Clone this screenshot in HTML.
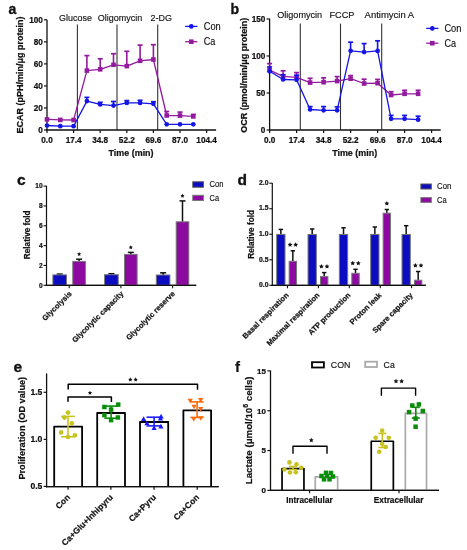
<!DOCTYPE html>
<html><head><meta charset="utf-8"><style>
html,body{margin:0;padding:0;background:#fff;overflow:hidden;}
svg{display:block;font-family:"Liberation Sans", sans-serif;will-change:transform;}
</style></head><body>
<svg width="467" height="550" viewBox="0 0 467 550">
<rect width="467" height="550" fill="#fff"/>
<text x="8.60" y="13.80" font-size="14" font-weight="bold" text-anchor="start" fill="#111" stroke="#111" stroke-width="0.35">a</text>
<line x1="77.40" y1="24.50" x2="77.40" y2="130.00" stroke="#333" stroke-width="1.1" />
<line x1="117.00" y1="24.50" x2="117.00" y2="130.00" stroke="#333" stroke-width="1.1" />
<line x1="157.70" y1="24.50" x2="157.70" y2="130.00" stroke="#333" stroke-width="1.1" />
<text x="59.10" y="20.70" font-size="9.8" font-weight="normal" text-anchor="start" fill="#111" stroke="#111" stroke-width="0.15" textLength="32.9" lengthAdjust="spacingAndGlyphs">Glucose</text>
<text x="97.70" y="20.70" font-size="9.8" font-weight="normal" text-anchor="start" fill="#111" stroke="#111" stroke-width="0.15" textLength="44.6" lengthAdjust="spacingAndGlyphs">Oligomycin</text>
<text x="150.60" y="20.70" font-size="9.8" font-weight="normal" text-anchor="start" fill="#111" stroke="#111" stroke-width="0.15" textLength="21.5" lengthAdjust="spacingAndGlyphs">2-DG</text>
<line x1="47.00" y1="19.80" x2="47.00" y2="130.60" stroke="#111" stroke-width="1.3" />
<line x1="46.40" y1="130.00" x2="216.10" y2="130.00" stroke="#111" stroke-width="1.3" />
<line x1="44.00" y1="130.00" x2="47.00" y2="130.00" stroke="#111" stroke-width="1.2" />
<text x="42.80" y="132.90" font-size="8.2" font-weight="bold" text-anchor="end" fill="#111"  stroke="#111" stroke-width="0.22">0</text>
<line x1="44.00" y1="107.96" x2="47.00" y2="107.96" stroke="#111" stroke-width="1.2" />
<text x="42.80" y="110.86" font-size="8.2" font-weight="bold" text-anchor="end" fill="#111"  stroke="#111" stroke-width="0.22">20</text>
<line x1="44.00" y1="85.92" x2="47.00" y2="85.92" stroke="#111" stroke-width="1.2" />
<text x="42.80" y="88.82" font-size="8.2" font-weight="bold" text-anchor="end" fill="#111"  stroke="#111" stroke-width="0.22">40</text>
<line x1="44.00" y1="63.88" x2="47.00" y2="63.88" stroke="#111" stroke-width="1.2" />
<text x="42.80" y="66.78" font-size="8.2" font-weight="bold" text-anchor="end" fill="#111"  stroke="#111" stroke-width="0.22">60</text>
<line x1="44.00" y1="41.84" x2="47.00" y2="41.84" stroke="#111" stroke-width="1.2" />
<text x="42.80" y="44.74" font-size="8.2" font-weight="bold" text-anchor="end" fill="#111"  stroke="#111" stroke-width="0.22">80</text>
<line x1="44.00" y1="19.80" x2="47.00" y2="19.80" stroke="#111" stroke-width="1.2" />
<text x="42.80" y="22.70" font-size="8.2" font-weight="bold" text-anchor="end" fill="#111"  stroke="#111" stroke-width="0.22">100</text>
<line x1="47.00" y1="130.00" x2="47.00" y2="133.00" stroke="#111" stroke-width="1.2" />
<text x="47.00" y="142.60" font-size="8.2" font-weight="bold" text-anchor="middle" fill="#111"  stroke="#111" stroke-width="0.22">0.0</text>
<line x1="73.60" y1="130.00" x2="73.60" y2="133.00" stroke="#111" stroke-width="1.2" />
<text x="73.60" y="142.60" font-size="8.2" font-weight="bold" text-anchor="middle" fill="#111"  stroke="#111" stroke-width="0.22">17.4</text>
<line x1="100.20" y1="130.00" x2="100.20" y2="133.00" stroke="#111" stroke-width="1.2" />
<text x="100.20" y="142.60" font-size="8.2" font-weight="bold" text-anchor="middle" fill="#111"  stroke="#111" stroke-width="0.22">34.8</text>
<line x1="126.80" y1="130.00" x2="126.80" y2="133.00" stroke="#111" stroke-width="1.2" />
<text x="126.80" y="142.60" font-size="8.2" font-weight="bold" text-anchor="middle" fill="#111"  stroke="#111" stroke-width="0.22">52.2</text>
<line x1="153.40" y1="130.00" x2="153.40" y2="133.00" stroke="#111" stroke-width="1.2" />
<text x="153.40" y="142.60" font-size="8.2" font-weight="bold" text-anchor="middle" fill="#111"  stroke="#111" stroke-width="0.22">69.6</text>
<line x1="180.00" y1="130.00" x2="180.00" y2="133.00" stroke="#111" stroke-width="1.2" />
<text x="180.00" y="142.60" font-size="8.2" font-weight="bold" text-anchor="middle" fill="#111"  stroke="#111" stroke-width="0.22">87.0</text>
<line x1="206.60" y1="130.00" x2="206.60" y2="133.00" stroke="#111" stroke-width="1.2" />
<text x="206.60" y="142.60" font-size="8.2" font-weight="bold" text-anchor="middle" fill="#111"  stroke="#111" stroke-width="0.22">104.4</text>
<text x="131.05" y="155.60" font-size="9" font-weight="bold" text-anchor="middle" fill="#111"  textLength="45.0" lengthAdjust="spacingAndGlyphs" stroke="#111" stroke-width="0.22">Time (min)</text>
<text x="22.80" y="75.00" font-size="9" font-weight="bold" text-anchor="middle" fill="#111" transform="rotate(-90 22.80 75.00)"  stroke="#111" stroke-width="0.22">ECAR (pPH/min/μg protein)</text>
<polyline points="47.00,119.40 60.30,119.90 73.60,120.00 86.90,70.60 100.20,69.30 113.50,64.80 126.80,66.10 140.10,60.80 153.40,59.50 166.70,115.50 180.00,115.60 193.30,116.40" fill="none" stroke="#931a9f" stroke-width="1.3" stroke-linejoin="round" />
<rect x="44.70" y="117.10" width="4.60" height="4.60" fill="#931a9f" stroke="none" stroke-width="0" />
<rect x="58.00" y="117.60" width="4.60" height="4.60" fill="#931a9f" stroke="none" stroke-width="0" />
<rect x="71.30" y="117.70" width="4.60" height="4.60" fill="#931a9f" stroke="none" stroke-width="0" />
<line x1="86.90" y1="70.60" x2="86.90" y2="55.60" stroke="#931a9f" stroke-width="1.6" />
<line x1="84.40" y1="55.60" x2="89.40" y2="55.60" stroke="#931a9f" stroke-width="1.7" />
<rect x="84.60" y="68.30" width="4.60" height="4.60" fill="#931a9f" stroke="none" stroke-width="0" />
<line x1="100.20" y1="69.30" x2="100.20" y2="58.80" stroke="#931a9f" stroke-width="1.6" />
<line x1="97.70" y1="58.80" x2="102.70" y2="58.80" stroke="#931a9f" stroke-width="1.7" />
<rect x="97.90" y="67.00" width="4.60" height="4.60" fill="#931a9f" stroke="none" stroke-width="0" />
<line x1="113.50" y1="64.80" x2="113.50" y2="53.70" stroke="#931a9f" stroke-width="1.6" />
<line x1="111.00" y1="53.70" x2="116.00" y2="53.70" stroke="#931a9f" stroke-width="1.7" />
<rect x="111.20" y="62.50" width="4.60" height="4.60" fill="#931a9f" stroke="none" stroke-width="0" />
<line x1="126.80" y1="66.10" x2="126.80" y2="51.30" stroke="#931a9f" stroke-width="1.6" />
<line x1="124.30" y1="51.30" x2="129.30" y2="51.30" stroke="#931a9f" stroke-width="1.7" />
<rect x="124.50" y="63.80" width="4.60" height="4.60" fill="#931a9f" stroke="none" stroke-width="0" />
<line x1="140.10" y1="60.80" x2="140.10" y2="45.10" stroke="#931a9f" stroke-width="1.6" />
<line x1="137.60" y1="45.10" x2="142.60" y2="45.10" stroke="#931a9f" stroke-width="1.7" />
<rect x="137.80" y="58.50" width="4.60" height="4.60" fill="#931a9f" stroke="none" stroke-width="0" />
<line x1="153.40" y1="59.50" x2="153.40" y2="44.70" stroke="#931a9f" stroke-width="1.6" />
<line x1="150.90" y1="44.70" x2="155.90" y2="44.70" stroke="#931a9f" stroke-width="1.7" />
<rect x="151.10" y="57.20" width="4.60" height="4.60" fill="#931a9f" stroke="none" stroke-width="0" />
<line x1="166.70" y1="115.50" x2="166.70" y2="111.50" stroke="#931a9f" stroke-width="1.6" />
<line x1="164.20" y1="111.50" x2="169.20" y2="111.50" stroke="#931a9f" stroke-width="1.7" />
<rect x="164.40" y="113.20" width="4.60" height="4.60" fill="#931a9f" stroke="none" stroke-width="0" />
<line x1="180.00" y1="115.60" x2="180.00" y2="112.10" stroke="#931a9f" stroke-width="1.6" />
<line x1="177.50" y1="112.10" x2="182.50" y2="112.10" stroke="#931a9f" stroke-width="1.7" />
<rect x="177.70" y="113.30" width="4.60" height="4.60" fill="#931a9f" stroke="none" stroke-width="0" />
<line x1="193.30" y1="116.40" x2="193.30" y2="114.40" stroke="#931a9f" stroke-width="1.6" />
<line x1="190.80" y1="114.40" x2="195.80" y2="114.40" stroke="#931a9f" stroke-width="1.7" />
<rect x="191.00" y="114.10" width="4.60" height="4.60" fill="#931a9f" stroke="none" stroke-width="0" />
<polyline points="47.00,125.50 60.30,126.20 73.60,126.20 86.90,101.10 100.20,104.40 113.50,105.60 126.80,102.90 140.10,102.90 153.40,103.80 166.70,124.30 180.00,124.30 193.30,124.30" fill="none" stroke="#1414e6" stroke-width="1.3" stroke-linejoin="round" />
<circle cx="47.00" cy="125.50" r="2.35" fill="#1414e6"/>
<circle cx="60.30" cy="126.20" r="2.35" fill="#1414e6"/>
<circle cx="73.60" cy="126.20" r="2.35" fill="#1414e6"/>
<line x1="86.90" y1="101.10" x2="86.90" y2="97.40" stroke="#1414e6" stroke-width="1.6" />
<line x1="84.40" y1="97.40" x2="89.40" y2="97.40" stroke="#1414e6" stroke-width="1.7" />
<circle cx="86.90" cy="101.10" r="2.35" fill="#1414e6"/>
<line x1="100.20" y1="104.40" x2="100.20" y2="102.30" stroke="#1414e6" stroke-width="1.6" />
<line x1="97.70" y1="102.30" x2="102.70" y2="102.30" stroke="#1414e6" stroke-width="1.7" />
<circle cx="100.20" cy="104.40" r="2.35" fill="#1414e6"/>
<line x1="113.50" y1="105.60" x2="113.50" y2="101.50" stroke="#1414e6" stroke-width="1.6" />
<line x1="111.00" y1="101.50" x2="116.00" y2="101.50" stroke="#1414e6" stroke-width="1.7" />
<circle cx="113.50" cy="105.60" r="2.35" fill="#1414e6"/>
<line x1="126.80" y1="102.90" x2="126.80" y2="100.60" stroke="#1414e6" stroke-width="1.6" />
<line x1="124.30" y1="100.60" x2="129.30" y2="100.60" stroke="#1414e6" stroke-width="1.7" />
<circle cx="126.80" cy="102.90" r="2.35" fill="#1414e6"/>
<line x1="140.10" y1="102.90" x2="140.10" y2="100.30" stroke="#1414e6" stroke-width="1.6" />
<line x1="137.60" y1="100.30" x2="142.60" y2="100.30" stroke="#1414e6" stroke-width="1.7" />
<circle cx="140.10" cy="102.90" r="2.35" fill="#1414e6"/>
<line x1="153.40" y1="103.80" x2="153.40" y2="101.70" stroke="#1414e6" stroke-width="1.6" />
<line x1="150.90" y1="101.70" x2="155.90" y2="101.70" stroke="#1414e6" stroke-width="1.7" />
<circle cx="153.40" cy="103.80" r="2.35" fill="#1414e6"/>
<circle cx="166.70" cy="124.30" r="2.35" fill="#1414e6"/>
<circle cx="180.00" cy="124.30" r="2.35" fill="#1414e6"/>
<circle cx="193.30" cy="124.30" r="2.35" fill="#1414e6"/>
<line x1="185.20" y1="26.40" x2="197.40" y2="26.40" stroke="#1414e6" stroke-width="1.3" />
<circle cx="191.30" cy="26.40" r="2.35" fill="#1414e6"/>
<line x1="185.20" y1="41.70" x2="197.40" y2="41.70" stroke="#931a9f" stroke-width="1.3" />
<rect x="189.00" y="39.40" width="4.60" height="4.60" fill="#931a9f" stroke="none" stroke-width="0" />
<text x="203.70" y="29.70" font-size="10.2" font-weight="normal" text-anchor="start" fill="#111" stroke="#111" stroke-width="0.15" textLength="17.0" lengthAdjust="spacingAndGlyphs">Con</text>
<text x="203.70" y="45.00" font-size="10.2" font-weight="normal" text-anchor="start" fill="#111" stroke="#111" stroke-width="0.15" textLength="11.6" lengthAdjust="spacingAndGlyphs">Ca</text>
<text x="230.50" y="14.20" font-size="14" font-weight="bold" text-anchor="start" fill="#111" stroke="#111" stroke-width="0.35">b</text>
<line x1="300.30" y1="23.60" x2="300.30" y2="130.00" stroke="#333" stroke-width="1.1" />
<line x1="340.50" y1="23.60" x2="340.50" y2="130.00" stroke="#333" stroke-width="1.1" />
<line x1="381.70" y1="23.60" x2="381.70" y2="130.00" stroke="#333" stroke-width="1.1" />
<text x="277.20" y="18.40" font-size="9.8" font-weight="normal" text-anchor="start" fill="#111" stroke="#111" stroke-width="0.15" textLength="45.0" lengthAdjust="spacingAndGlyphs">Oligomycin</text>
<text x="329.40" y="18.40" font-size="9.8" font-weight="normal" text-anchor="start" fill="#111" stroke="#111" stroke-width="0.15" textLength="25.0" lengthAdjust="spacingAndGlyphs">FCCP</text>
<text x="364.60" y="18.40" font-size="9.8" font-weight="normal" text-anchor="start" fill="#111" stroke="#111" stroke-width="0.15" textLength="49.6" lengthAdjust="spacingAndGlyphs">Antimycin A</text>
<line x1="269.60" y1="18.60" x2="269.60" y2="130.60" stroke="#111" stroke-width="1.3" />
<line x1="269.00" y1="130.00" x2="440.70" y2="130.00" stroke="#111" stroke-width="1.3" />
<line x1="266.60" y1="130.00" x2="269.60" y2="130.00" stroke="#111" stroke-width="1.2" />
<text x="265.40" y="132.90" font-size="8.2" font-weight="bold" text-anchor="end" fill="#111"  stroke="#111" stroke-width="0.22">0</text>
<line x1="266.60" y1="93.00" x2="269.60" y2="93.00" stroke="#111" stroke-width="1.2" />
<text x="265.40" y="95.90" font-size="8.2" font-weight="bold" text-anchor="end" fill="#111"  stroke="#111" stroke-width="0.22">50</text>
<line x1="266.60" y1="56.00" x2="269.60" y2="56.00" stroke="#111" stroke-width="1.2" />
<text x="265.40" y="58.90" font-size="8.2" font-weight="bold" text-anchor="end" fill="#111"  stroke="#111" stroke-width="0.22">100</text>
<line x1="266.60" y1="19.00" x2="269.60" y2="19.00" stroke="#111" stroke-width="1.2" />
<text x="265.40" y="21.90" font-size="8.2" font-weight="bold" text-anchor="end" fill="#111"  stroke="#111" stroke-width="0.22">150</text>
<line x1="269.60" y1="130.00" x2="269.60" y2="133.00" stroke="#111" stroke-width="1.2" />
<text x="269.60" y="142.60" font-size="8.2" font-weight="bold" text-anchor="middle" fill="#111"  stroke="#111" stroke-width="0.22">0.0</text>
<line x1="296.60" y1="130.00" x2="296.60" y2="133.00" stroke="#111" stroke-width="1.2" />
<text x="296.60" y="142.60" font-size="8.2" font-weight="bold" text-anchor="middle" fill="#111"  stroke="#111" stroke-width="0.22">17.4</text>
<line x1="323.60" y1="130.00" x2="323.60" y2="133.00" stroke="#111" stroke-width="1.2" />
<text x="323.60" y="142.60" font-size="8.2" font-weight="bold" text-anchor="middle" fill="#111"  stroke="#111" stroke-width="0.22">34.8</text>
<line x1="350.60" y1="130.00" x2="350.60" y2="133.00" stroke="#111" stroke-width="1.2" />
<text x="350.60" y="142.60" font-size="8.2" font-weight="bold" text-anchor="middle" fill="#111"  stroke="#111" stroke-width="0.22">52.2</text>
<line x1="377.60" y1="130.00" x2="377.60" y2="133.00" stroke="#111" stroke-width="1.2" />
<text x="377.60" y="142.60" font-size="8.2" font-weight="bold" text-anchor="middle" fill="#111"  stroke="#111" stroke-width="0.22">69.6</text>
<line x1="404.60" y1="130.00" x2="404.60" y2="133.00" stroke="#111" stroke-width="1.2" />
<text x="404.60" y="142.60" font-size="8.2" font-weight="bold" text-anchor="middle" fill="#111"  stroke="#111" stroke-width="0.22">87.0</text>
<line x1="431.60" y1="130.00" x2="431.60" y2="133.00" stroke="#111" stroke-width="1.2" />
<text x="431.60" y="142.60" font-size="8.2" font-weight="bold" text-anchor="middle" fill="#111"  stroke="#111" stroke-width="0.22">104.4</text>
<text x="354.65" y="155.60" font-size="9" font-weight="bold" text-anchor="middle" fill="#111"  textLength="45.0" lengthAdjust="spacingAndGlyphs" stroke="#111" stroke-width="0.22">Time (min)</text>
<text x="247.50" y="75.30" font-size="9" font-weight="bold" text-anchor="middle" fill="#111" transform="rotate(-90 247.50 75.30)"  stroke="#111" stroke-width="0.22">OCR (pmol/min/μg protein)</text>
<polyline points="269.60,70.10 283.10,76.40 296.60,77.30 310.10,82.60 323.60,82.20 337.10,81.10 350.60,78.70 364.10,83.50 377.60,83.20 391.10,95.00 404.60,93.80 418.10,93.80" fill="none" stroke="#931a9f" stroke-width="1.3" stroke-linejoin="round" />
<line x1="269.60" y1="70.10" x2="269.60" y2="63.60" stroke="#931a9f" stroke-width="1.6" />
<line x1="267.10" y1="63.60" x2="272.10" y2="63.60" stroke="#931a9f" stroke-width="1.7" />
<rect x="267.30" y="67.80" width="4.60" height="4.60" fill="#931a9f" stroke="none" stroke-width="0" />
<line x1="283.10" y1="76.40" x2="283.10" y2="70.80" stroke="#931a9f" stroke-width="1.6" />
<line x1="280.60" y1="70.80" x2="285.60" y2="70.80" stroke="#931a9f" stroke-width="1.7" />
<rect x="280.80" y="74.10" width="4.60" height="4.60" fill="#931a9f" stroke="none" stroke-width="0" />
<line x1="296.60" y1="77.30" x2="296.60" y2="72.60" stroke="#931a9f" stroke-width="1.6" />
<line x1="294.10" y1="72.60" x2="299.10" y2="72.60" stroke="#931a9f" stroke-width="1.7" />
<rect x="294.30" y="75.00" width="4.60" height="4.60" fill="#931a9f" stroke="none" stroke-width="0" />
<line x1="310.10" y1="82.60" x2="310.10" y2="78.30" stroke="#931a9f" stroke-width="1.6" />
<line x1="307.60" y1="78.30" x2="312.60" y2="78.30" stroke="#931a9f" stroke-width="1.7" />
<rect x="307.80" y="80.30" width="4.60" height="4.60" fill="#931a9f" stroke="none" stroke-width="0" />
<line x1="323.60" y1="82.20" x2="323.60" y2="77.80" stroke="#931a9f" stroke-width="1.6" />
<line x1="321.10" y1="77.80" x2="326.10" y2="77.80" stroke="#931a9f" stroke-width="1.7" />
<rect x="321.30" y="79.90" width="4.60" height="4.60" fill="#931a9f" stroke="none" stroke-width="0" />
<line x1="337.10" y1="81.10" x2="337.10" y2="76.60" stroke="#931a9f" stroke-width="1.6" />
<line x1="334.60" y1="76.60" x2="339.60" y2="76.60" stroke="#931a9f" stroke-width="1.7" />
<rect x="334.80" y="78.80" width="4.60" height="4.60" fill="#931a9f" stroke="none" stroke-width="0" />
<line x1="350.60" y1="78.70" x2="350.60" y2="75.60" stroke="#931a9f" stroke-width="1.6" />
<line x1="348.10" y1="75.60" x2="353.10" y2="75.60" stroke="#931a9f" stroke-width="1.7" />
<rect x="348.30" y="76.40" width="4.60" height="4.60" fill="#931a9f" stroke="none" stroke-width="0" />
<line x1="364.10" y1="83.50" x2="364.10" y2="79.20" stroke="#931a9f" stroke-width="1.6" />
<line x1="361.60" y1="79.20" x2="366.60" y2="79.20" stroke="#931a9f" stroke-width="1.7" />
<rect x="361.80" y="81.20" width="4.60" height="4.60" fill="#931a9f" stroke="none" stroke-width="0" />
<line x1="377.60" y1="83.20" x2="377.60" y2="79.40" stroke="#931a9f" stroke-width="1.6" />
<line x1="375.10" y1="79.40" x2="380.10" y2="79.40" stroke="#931a9f" stroke-width="1.7" />
<rect x="375.30" y="80.90" width="4.60" height="4.60" fill="#931a9f" stroke="none" stroke-width="0" />
<line x1="391.10" y1="95.00" x2="391.10" y2="91.70" stroke="#931a9f" stroke-width="1.6" />
<line x1="388.60" y1="91.70" x2="393.60" y2="91.70" stroke="#931a9f" stroke-width="1.7" />
<rect x="388.80" y="92.70" width="4.60" height="4.60" fill="#931a9f" stroke="none" stroke-width="0" />
<line x1="404.60" y1="93.80" x2="404.60" y2="90.30" stroke="#931a9f" stroke-width="1.6" />
<line x1="402.10" y1="90.30" x2="407.10" y2="90.30" stroke="#931a9f" stroke-width="1.7" />
<rect x="402.30" y="91.50" width="4.60" height="4.60" fill="#931a9f" stroke="none" stroke-width="0" />
<line x1="418.10" y1="93.80" x2="418.10" y2="90.30" stroke="#931a9f" stroke-width="1.6" />
<line x1="415.60" y1="90.30" x2="420.60" y2="90.30" stroke="#931a9f" stroke-width="1.7" />
<rect x="415.80" y="91.50" width="4.60" height="4.60" fill="#931a9f" stroke="none" stroke-width="0" />
<polyline points="269.60,71.30 283.10,79.50 296.60,79.80 310.10,109.50 323.60,110.30 337.10,110.30 350.60,50.80 364.10,52.10 377.60,50.90 391.10,118.80 404.60,118.80 418.10,119.70" fill="none" stroke="#1414e6" stroke-width="1.3" stroke-linejoin="round" />
<line x1="269.60" y1="71.30" x2="269.60" y2="67.00" stroke="#1414e6" stroke-width="1.6" />
<line x1="267.10" y1="67.00" x2="272.10" y2="67.00" stroke="#1414e6" stroke-width="1.7" />
<circle cx="269.60" cy="71.30" r="2.35" fill="#1414e6"/>
<line x1="283.10" y1="79.50" x2="283.10" y2="74.70" stroke="#1414e6" stroke-width="1.6" />
<line x1="280.60" y1="74.70" x2="285.60" y2="74.70" stroke="#1414e6" stroke-width="1.7" />
<circle cx="283.10" cy="79.50" r="2.35" fill="#1414e6"/>
<line x1="296.60" y1="79.80" x2="296.60" y2="75.20" stroke="#1414e6" stroke-width="1.6" />
<line x1="294.10" y1="75.20" x2="299.10" y2="75.20" stroke="#1414e6" stroke-width="1.7" />
<circle cx="296.60" cy="79.80" r="2.35" fill="#1414e6"/>
<line x1="310.10" y1="109.50" x2="310.10" y2="106.60" stroke="#1414e6" stroke-width="1.6" />
<line x1="307.60" y1="106.60" x2="312.60" y2="106.60" stroke="#1414e6" stroke-width="1.7" />
<circle cx="310.10" cy="109.50" r="2.35" fill="#1414e6"/>
<line x1="323.60" y1="110.30" x2="323.60" y2="106.60" stroke="#1414e6" stroke-width="1.6" />
<line x1="321.10" y1="106.60" x2="326.10" y2="106.60" stroke="#1414e6" stroke-width="1.7" />
<circle cx="323.60" cy="110.30" r="2.35" fill="#1414e6"/>
<line x1="337.10" y1="110.30" x2="337.10" y2="106.90" stroke="#1414e6" stroke-width="1.6" />
<line x1="334.60" y1="106.90" x2="339.60" y2="106.90" stroke="#1414e6" stroke-width="1.7" />
<circle cx="337.10" cy="110.30" r="2.35" fill="#1414e6"/>
<line x1="350.60" y1="50.80" x2="350.60" y2="42.20" stroke="#1414e6" stroke-width="1.6" />
<line x1="348.10" y1="42.20" x2="353.10" y2="42.20" stroke="#1414e6" stroke-width="1.7" />
<circle cx="350.60" cy="50.80" r="2.35" fill="#1414e6"/>
<line x1="364.10" y1="52.10" x2="364.10" y2="43.60" stroke="#1414e6" stroke-width="1.6" />
<line x1="361.60" y1="43.60" x2="366.60" y2="43.60" stroke="#1414e6" stroke-width="1.7" />
<circle cx="364.10" cy="52.10" r="2.35" fill="#1414e6"/>
<line x1="377.60" y1="50.90" x2="377.60" y2="40.80" stroke="#1414e6" stroke-width="1.6" />
<line x1="375.10" y1="40.80" x2="380.10" y2="40.80" stroke="#1414e6" stroke-width="1.7" />
<circle cx="377.60" cy="50.90" r="2.35" fill="#1414e6"/>
<line x1="391.10" y1="118.80" x2="391.10" y2="115.40" stroke="#1414e6" stroke-width="1.6" />
<line x1="388.60" y1="115.40" x2="393.60" y2="115.40" stroke="#1414e6" stroke-width="1.7" />
<circle cx="391.10" cy="118.80" r="2.35" fill="#1414e6"/>
<line x1="404.60" y1="118.80" x2="404.60" y2="115.40" stroke="#1414e6" stroke-width="1.6" />
<line x1="402.10" y1="115.40" x2="407.10" y2="115.40" stroke="#1414e6" stroke-width="1.7" />
<circle cx="404.60" cy="118.80" r="2.35" fill="#1414e6"/>
<line x1="418.10" y1="119.70" x2="418.10" y2="116.20" stroke="#1414e6" stroke-width="1.6" />
<line x1="415.60" y1="116.20" x2="420.60" y2="116.20" stroke="#1414e6" stroke-width="1.7" />
<circle cx="418.10" cy="119.70" r="2.35" fill="#1414e6"/>
<line x1="426.20" y1="28.40" x2="438.40" y2="28.40" stroke="#1414e6" stroke-width="1.3" />
<circle cx="432.30" cy="28.40" r="2.35" fill="#1414e6"/>
<line x1="426.20" y1="43.20" x2="438.40" y2="43.20" stroke="#931a9f" stroke-width="1.3" />
<rect x="430.00" y="40.90" width="4.60" height="4.60" fill="#931a9f" stroke="none" stroke-width="0" />
<text x="444.40" y="31.70" font-size="10.2" font-weight="normal" text-anchor="start" fill="#111" stroke="#111" stroke-width="0.15" textLength="17.0" lengthAdjust="spacingAndGlyphs">Con</text>
<text x="444.40" y="46.50" font-size="10.2" font-weight="normal" text-anchor="start" fill="#111" stroke="#111" stroke-width="0.15" textLength="11.6" lengthAdjust="spacingAndGlyphs">Ca</text>
<text x="16.90" y="184.60" font-size="15.5" font-weight="bold" text-anchor="start" fill="#111" stroke="#111" stroke-width="0.35">c</text>
<line x1="46.50" y1="185.80" x2="46.50" y2="285.90" stroke="#111" stroke-width="1.2" />
<line x1="45.90" y1="285.30" x2="196.20" y2="285.30" stroke="#111" stroke-width="1.2" />
<line x1="43.50" y1="285.30" x2="46.50" y2="285.30" stroke="#111" stroke-width="1.1" />
<text x="42.70" y="287.68" font-size="6.6" font-weight="bold" text-anchor="end" fill="#111"  stroke="#111" stroke-width="0.22">0</text>
<line x1="43.50" y1="265.46" x2="46.50" y2="265.46" stroke="#111" stroke-width="1.1" />
<text x="42.70" y="267.84" font-size="6.6" font-weight="bold" text-anchor="end" fill="#111"  stroke="#111" stroke-width="0.22">2</text>
<line x1="43.50" y1="245.62" x2="46.50" y2="245.62" stroke="#111" stroke-width="1.1" />
<text x="42.70" y="248.00" font-size="6.6" font-weight="bold" text-anchor="end" fill="#111"  stroke="#111" stroke-width="0.22">4</text>
<line x1="43.50" y1="225.78" x2="46.50" y2="225.78" stroke="#111" stroke-width="1.1" />
<text x="42.70" y="228.16" font-size="6.6" font-weight="bold" text-anchor="end" fill="#111"  stroke="#111" stroke-width="0.22">6</text>
<line x1="43.50" y1="205.94" x2="46.50" y2="205.94" stroke="#111" stroke-width="1.1" />
<text x="42.70" y="208.32" font-size="6.6" font-weight="bold" text-anchor="end" fill="#111"  stroke="#111" stroke-width="0.22">8</text>
<line x1="43.50" y1="186.10" x2="46.50" y2="186.10" stroke="#111" stroke-width="1.1" />
<text x="42.70" y="188.48" font-size="6.6" font-weight="bold" text-anchor="end" fill="#111"  stroke="#111" stroke-width="0.22">10</text>
<line x1="69.20" y1="285.30" x2="69.20" y2="288.30" stroke="#111" stroke-width="1.1" />
<line x1="59.70" y1="274.90" x2="59.70" y2="274.10" stroke="#111" stroke-width="1.5" />
<line x1="56.70" y1="274.10" x2="62.70" y2="274.10" stroke="#111" stroke-width="1.5" />
<rect x="52.90" y="274.90" width="13.60" height="10.40" fill="#0c0cc0" stroke="#777777" stroke-width="1.0" />
<line x1="79.10" y1="261.40" x2="79.10" y2="259.20" stroke="#111" stroke-width="1.5" />
<line x1="76.10" y1="259.20" x2="82.10" y2="259.20" stroke="#111" stroke-width="1.5" />
<rect x="72.80" y="261.40" width="12.60" height="23.90" fill="#8c0aa0" stroke="#777777" stroke-width="1.0" />
<polygon points="79.10,252.05 79.73,253.33 81.14,253.54 80.12,254.53 80.36,255.94 79.10,255.27 77.84,255.94 78.08,254.53 77.06,253.54 78.47,253.33" fill="#111"/>
<text x="72.20" y="294.30" font-size="7.6" font-weight="bold" text-anchor="end" fill="#111" transform="rotate(-45 72.20 294.30)"  stroke="#111" stroke-width="0.22">Glycolysis</text>
<line x1="120.90" y1="285.30" x2="120.90" y2="288.30" stroke="#111" stroke-width="1.1" />
<line x1="111.40" y1="274.70" x2="111.40" y2="273.70" stroke="#111" stroke-width="1.5" />
<line x1="108.40" y1="273.70" x2="114.40" y2="273.70" stroke="#111" stroke-width="1.5" />
<rect x="104.60" y="274.70" width="13.60" height="10.60" fill="#0c0cc0" stroke="#777777" stroke-width="1.0" />
<line x1="130.80" y1="254.40" x2="130.80" y2="252.40" stroke="#111" stroke-width="1.5" />
<line x1="127.80" y1="252.40" x2="133.80" y2="252.40" stroke="#111" stroke-width="1.5" />
<rect x="124.50" y="254.40" width="12.60" height="30.90" fill="#8c0aa0" stroke="#777777" stroke-width="1.0" />
<polygon points="130.80,245.25 131.43,246.53 132.84,246.74 131.82,247.73 132.06,249.14 130.80,248.47 129.54,249.14 129.78,247.73 128.76,246.74 130.17,246.53" fill="#111"/>
<text x="123.90" y="294.30" font-size="7.6" font-weight="bold" text-anchor="end" fill="#111" transform="rotate(-45 123.90 294.30)"  stroke="#111" stroke-width="0.22">Glycolytic capacity</text>
<line x1="172.60" y1="285.30" x2="172.60" y2="288.30" stroke="#111" stroke-width="1.1" />
<line x1="163.10" y1="275.00" x2="163.10" y2="272.80" stroke="#111" stroke-width="1.5" />
<line x1="160.10" y1="272.80" x2="166.10" y2="272.80" stroke="#111" stroke-width="1.5" />
<rect x="156.30" y="275.00" width="13.60" height="10.30" fill="#0c0cc0" stroke="#777777" stroke-width="1.0" />
<line x1="182.50" y1="221.80" x2="182.50" y2="200.90" stroke="#111" stroke-width="1.5" />
<line x1="179.50" y1="200.90" x2="185.50" y2="200.90" stroke="#111" stroke-width="1.5" />
<rect x="176.20" y="221.80" width="12.60" height="63.50" fill="#8c0aa0" stroke="#777777" stroke-width="1.0" />
<polygon points="182.50,193.75 183.13,195.03 184.54,195.24 183.52,196.23 183.76,197.64 182.50,196.97 181.24,197.64 181.48,196.23 180.46,195.24 181.87,195.03" fill="#111"/>
<text x="175.60" y="294.30" font-size="7.6" font-weight="bold" text-anchor="end" fill="#111" transform="rotate(-45 175.60 294.30)"  stroke="#111" stroke-width="0.22">Glycolytic reserve</text>
<line x1="45.90" y1="285.30" x2="196.20" y2="285.30" stroke="#111" stroke-width="1.2" />
<text x="30.00" y="234.80" font-size="8.2" font-weight="bold" text-anchor="middle" fill="#111" transform="rotate(-90 30.00 234.80)"  stroke="#111" stroke-width="0.22">Relative fold</text>
<rect x="192.80" y="181.80" width="10.60" height="5.40" fill="#0c0cc0" stroke="#555" stroke-width="1.0" />
<rect x="192.80" y="195.30" width="10.60" height="5.20" fill="#8c0aa0" stroke="#777777" stroke-width="1.0" />
<text x="209.60" y="187.00" font-size="8.2" font-weight="normal" text-anchor="start" fill="#111" stroke="#111" stroke-width="0.15" textLength="13.9" lengthAdjust="spacingAndGlyphs">Con</text>
<text x="209.60" y="200.60" font-size="8.2" font-weight="normal" text-anchor="start" fill="#111" stroke="#111" stroke-width="0.15" textLength="9.5" lengthAdjust="spacingAndGlyphs">Ca</text>
<text x="237.50" y="184.50" font-size="15.5" font-weight="bold" text-anchor="start" fill="#111" stroke="#111" stroke-width="0.35">d</text>
<line x1="272.30" y1="183.00" x2="272.30" y2="285.90" stroke="#111" stroke-width="1.2" />
<line x1="271.70" y1="285.30" x2="426.00" y2="285.30" stroke="#111" stroke-width="1.2" />
<line x1="269.30" y1="285.30" x2="272.30" y2="285.30" stroke="#111" stroke-width="1.1" />
<text x="268.50" y="287.05" font-size="6.8" font-weight="bold" text-anchor="end" fill="#111"  stroke="#111" stroke-width="0.22">0.0</text>
<line x1="269.30" y1="259.78" x2="272.30" y2="259.78" stroke="#111" stroke-width="1.1" />
<text x="268.50" y="261.52" font-size="6.8" font-weight="bold" text-anchor="end" fill="#111"  stroke="#111" stroke-width="0.22">0.5</text>
<line x1="269.30" y1="234.25" x2="272.30" y2="234.25" stroke="#111" stroke-width="1.1" />
<text x="268.50" y="236.00" font-size="6.8" font-weight="bold" text-anchor="end" fill="#111"  stroke="#111" stroke-width="0.22">1.0</text>
<line x1="269.30" y1="208.73" x2="272.30" y2="208.73" stroke="#111" stroke-width="1.1" />
<text x="268.50" y="210.47" font-size="6.8" font-weight="bold" text-anchor="end" fill="#111"  stroke="#111" stroke-width="0.22">1.5</text>
<line x1="269.30" y1="183.20" x2="272.30" y2="183.20" stroke="#111" stroke-width="1.1" />
<text x="268.50" y="184.95" font-size="6.8" font-weight="bold" text-anchor="end" fill="#111"  stroke="#111" stroke-width="0.22">2.0</text>
<line x1="287.50" y1="285.30" x2="287.50" y2="288.30" stroke="#111" stroke-width="1.1" />
<line x1="280.85" y1="234.40" x2="280.85" y2="229.40" stroke="#111" stroke-width="1.5" />
<line x1="278.65" y1="229.40" x2="283.05" y2="229.40" stroke="#111" stroke-width="1.5" />
<rect x="276.70" y="234.40" width="8.30" height="50.90" fill="#0c0cc0" stroke="#777777" stroke-width="1.0" />
<line x1="292.85" y1="261.30" x2="292.85" y2="250.80" stroke="#111" stroke-width="1.5" />
<line x1="290.65" y1="250.80" x2="295.05" y2="250.80" stroke="#111" stroke-width="1.5" />
<rect x="289.15" y="261.30" width="7.40" height="24.00" fill="#8c0aa0" stroke="#777777" stroke-width="1.0" />
<polygon points="290.05,242.30 290.78,243.79 292.43,244.03 291.24,245.19 291.52,246.82 290.05,246.05 288.58,246.82 288.86,245.19 287.67,244.03 289.32,243.79" fill="#111"/>
<polygon points="295.65,242.30 296.38,243.79 298.03,244.03 296.84,245.19 297.12,246.82 295.65,246.05 294.18,246.82 294.46,245.19 293.27,244.03 294.92,243.79" fill="#111"/>
<text x="289.20" y="295.70" font-size="7.6" font-weight="bold" text-anchor="end" fill="#111" transform="rotate(-45 289.20 295.70)"  stroke="#111" stroke-width="0.22">Basal respiration</text>
<line x1="318.40" y1="285.30" x2="318.40" y2="288.30" stroke="#111" stroke-width="1.1" />
<line x1="312.18" y1="234.40" x2="312.18" y2="229.00" stroke="#111" stroke-width="1.5" />
<line x1="309.98" y1="229.00" x2="314.38" y2="229.00" stroke="#111" stroke-width="1.5" />
<rect x="308.03" y="234.40" width="8.30" height="50.90" fill="#0c0cc0" stroke="#777777" stroke-width="1.0" />
<line x1="324.18" y1="276.60" x2="324.18" y2="272.60" stroke="#111" stroke-width="1.5" />
<line x1="321.98" y1="272.60" x2="326.38" y2="272.60" stroke="#111" stroke-width="1.5" />
<rect x="320.48" y="276.60" width="7.40" height="8.70" fill="#8c0aa0" stroke="#777777" stroke-width="1.0" />
<polygon points="321.38,264.10 322.11,265.59 323.76,265.83 322.57,266.99 322.85,268.62 321.38,267.85 319.91,268.62 320.19,266.99 319.00,265.83 320.65,265.59" fill="#111"/>
<polygon points="326.98,264.10 327.71,265.59 329.36,265.83 328.17,266.99 328.45,268.62 326.98,267.85 325.51,268.62 325.79,266.99 324.60,265.83 326.25,265.59" fill="#111"/>
<text x="320.10" y="295.70" font-size="7.6" font-weight="bold" text-anchor="end" fill="#111" transform="rotate(-45 320.10 295.70)"  stroke="#111" stroke-width="0.22">Maximal respiration</text>
<line x1="349.30" y1="285.30" x2="349.30" y2="288.30" stroke="#111" stroke-width="1.1" />
<line x1="343.51" y1="234.40" x2="343.51" y2="227.80" stroke="#111" stroke-width="1.5" />
<line x1="341.31" y1="227.80" x2="345.71" y2="227.80" stroke="#111" stroke-width="1.5" />
<rect x="339.36" y="234.40" width="8.30" height="50.90" fill="#0c0cc0" stroke="#777777" stroke-width="1.0" />
<line x1="355.51" y1="273.30" x2="355.51" y2="269.30" stroke="#111" stroke-width="1.5" />
<line x1="353.31" y1="269.30" x2="357.71" y2="269.30" stroke="#111" stroke-width="1.5" />
<rect x="351.81" y="273.30" width="7.40" height="12.00" fill="#8c0aa0" stroke="#777777" stroke-width="1.0" />
<polygon points="352.71,260.80 353.44,262.29 355.09,262.53 353.90,263.69 354.18,265.32 352.71,264.55 351.24,265.32 351.52,263.69 350.33,262.53 351.98,262.29" fill="#111"/>
<polygon points="358.31,260.80 359.04,262.29 360.69,262.53 359.50,263.69 359.78,265.32 358.31,264.55 356.84,265.32 357.12,263.69 355.93,262.53 357.58,262.29" fill="#111"/>
<text x="351.00" y="295.70" font-size="7.6" font-weight="bold" text-anchor="end" fill="#111" transform="rotate(-45 351.00 295.70)"  stroke="#111" stroke-width="0.22">ATP production</text>
<line x1="380.30" y1="285.30" x2="380.30" y2="288.30" stroke="#111" stroke-width="1.1" />
<line x1="374.84" y1="234.40" x2="374.84" y2="227.00" stroke="#111" stroke-width="1.5" />
<line x1="372.64" y1="227.00" x2="377.04" y2="227.00" stroke="#111" stroke-width="1.5" />
<rect x="370.69" y="234.40" width="8.30" height="50.90" fill="#0c0cc0" stroke="#777777" stroke-width="1.0" />
<line x1="386.84" y1="213.20" x2="386.84" y2="209.50" stroke="#111" stroke-width="1.5" />
<line x1="384.64" y1="209.50" x2="389.04" y2="209.50" stroke="#111" stroke-width="1.5" />
<rect x="383.14" y="213.20" width="7.40" height="72.10" fill="#8c0aa0" stroke="#777777" stroke-width="1.0" />
<polygon points="386.84,201.00 387.57,202.49 389.22,202.73 388.03,203.89 388.31,205.52 386.84,204.75 385.37,205.52 385.65,203.89 384.46,202.73 386.11,202.49" fill="#111"/>
<text x="382.00" y="295.70" font-size="7.6" font-weight="bold" text-anchor="end" fill="#111" transform="rotate(-45 382.00 295.70)"  stroke="#111" stroke-width="0.22">Proton leak</text>
<line x1="411.60" y1="285.30" x2="411.60" y2="288.30" stroke="#111" stroke-width="1.1" />
<line x1="406.17" y1="234.40" x2="406.17" y2="225.70" stroke="#111" stroke-width="1.5" />
<line x1="403.97" y1="225.70" x2="408.37" y2="225.70" stroke="#111" stroke-width="1.5" />
<rect x="402.02" y="234.40" width="8.30" height="50.90" fill="#0c0cc0" stroke="#777777" stroke-width="1.0" />
<line x1="418.17" y1="280.20" x2="418.17" y2="271.50" stroke="#111" stroke-width="1.5" />
<line x1="415.97" y1="271.50" x2="420.37" y2="271.50" stroke="#111" stroke-width="1.5" />
<rect x="414.47" y="280.20" width="7.40" height="5.10" fill="#8c0aa0" stroke="#777777" stroke-width="1.0" />
<polygon points="415.37,263.00 416.10,264.49 417.75,264.73 416.56,265.89 416.84,267.52 415.37,266.75 413.90,267.52 414.18,265.89 412.99,264.73 414.64,264.49" fill="#111"/>
<polygon points="420.97,263.00 421.70,264.49 423.35,264.73 422.16,265.89 422.44,267.52 420.97,266.75 419.50,267.52 419.78,265.89 418.59,264.73 420.24,264.49" fill="#111"/>
<text x="413.30" y="295.70" font-size="7.6" font-weight="bold" text-anchor="end" fill="#111" transform="rotate(-45 413.30 295.70)"  stroke="#111" stroke-width="0.22">Spare capacity</text>
<line x1="271.70" y1="285.30" x2="426.00" y2="285.30" stroke="#111" stroke-width="1.2" />
<text x="254.00" y="234.40" font-size="8.2" font-weight="bold" text-anchor="middle" fill="#111" transform="rotate(-90 254.00 234.40)"  stroke="#111" stroke-width="0.22">Relative fold</text>
<rect x="420.90" y="184.00" width="10.40" height="5.00" fill="#0c0cc0" stroke="#555" stroke-width="1.0" />
<rect x="420.90" y="197.60" width="10.40" height="4.80" fill="#8c0aa0" stroke="#777777" stroke-width="1.0" />
<text x="437.10" y="189.20" font-size="8.3" font-weight="normal" text-anchor="start" fill="#111" stroke="#111" stroke-width="0.15" textLength="14.3" lengthAdjust="spacingAndGlyphs">Con</text>
<text x="437.10" y="202.70" font-size="8.3" font-weight="normal" text-anchor="start" fill="#111" stroke="#111" stroke-width="0.15" textLength="9.6" lengthAdjust="spacingAndGlyphs">Ca</text>
<text x="13.40" y="371.50" font-size="15.5" font-weight="bold" text-anchor="start" fill="#111" stroke="#111" stroke-width="0.35">e</text>
<line x1="46.60" y1="373.40" x2="46.60" y2="487.40" stroke="#111" stroke-width="1.3" />
<line x1="46.00" y1="486.60" x2="218.70" y2="486.60" stroke="#111" stroke-width="1.4" />
<line x1="43.60" y1="486.40" x2="46.60" y2="486.40" stroke="#111" stroke-width="1.2" />
<text x="42.40" y="489.40" font-size="8.6" font-weight="bold" text-anchor="end" fill="#111"  stroke="#111" stroke-width="0.22">0.5</text>
<line x1="43.60" y1="439.35" x2="46.60" y2="439.35" stroke="#111" stroke-width="1.2" />
<text x="42.40" y="442.35" font-size="8.6" font-weight="bold" text-anchor="end" fill="#111"  stroke="#111" stroke-width="0.22">1.0</text>
<line x1="43.60" y1="392.30" x2="46.60" y2="392.30" stroke="#111" stroke-width="1.2" />
<text x="42.40" y="395.30" font-size="8.6" font-weight="bold" text-anchor="end" fill="#111"  stroke="#111" stroke-width="0.22">1.5</text>
<text x="25.10" y="428.20" font-size="9.2" font-weight="bold" text-anchor="middle" fill="#111" transform="rotate(-90 25.10 428.20)"  textLength="102.8" lengthAdjust="spacingAndGlyphs" stroke="#111" stroke-width="0.22">Proliferation (OD value)</text>
<polyline points="54.20,486.80 54.20,426.60 82.10,426.60 82.10,486.80" fill="none" stroke="#000" stroke-width="1.8" stroke-linejoin="round" stroke-linejoin="miter"/>
<polyline points="97.20,486.80 97.20,413.00 125.00,413.00 125.00,486.80" fill="none" stroke="#000" stroke-width="1.8" stroke-linejoin="round" stroke-linejoin="miter"/>
<polyline points="140.00,486.80 140.00,422.00 168.20,422.00 168.20,486.80" fill="none" stroke="#000" stroke-width="1.8" stroke-linejoin="round" stroke-linejoin="miter"/>
<polyline points="183.40,486.80 183.40,410.30 211.10,410.30 211.10,486.80" fill="none" stroke="#000" stroke-width="1.8" stroke-linejoin="round" stroke-linejoin="miter"/>
<line x1="46.00" y1="486.60" x2="218.70" y2="486.60" stroke="#111" stroke-width="1.4" />
<line x1="68.10" y1="486.80" x2="68.10" y2="489.80" stroke="#111" stroke-width="1.2" />
<line x1="110.90" y1="486.80" x2="110.90" y2="489.80" stroke="#111" stroke-width="1.2" />
<line x1="154.10" y1="486.80" x2="154.10" y2="489.80" stroke="#111" stroke-width="1.2" />
<line x1="197.20" y1="486.80" x2="197.20" y2="489.80" stroke="#111" stroke-width="1.2" />
<text x="70.70" y="497.80" font-size="8.5" font-weight="bold" text-anchor="end" fill="#111" transform="rotate(-45 70.70 497.80)"  stroke="#111" stroke-width="0.22">Con</text>
<text x="113.50" y="497.80" font-size="8.5" font-weight="bold" text-anchor="end" fill="#111" transform="rotate(-45 113.50 497.80)"  stroke="#111" stroke-width="0.22">Ca+Glu+Inhipyru</text>
<text x="156.70" y="497.80" font-size="8.5" font-weight="bold" text-anchor="end" fill="#111" transform="rotate(-45 156.70 497.80)"  stroke="#111" stroke-width="0.22">Ca+Pyru</text>
<text x="199.80" y="497.80" font-size="8.5" font-weight="bold" text-anchor="end" fill="#111" transform="rotate(-45 199.80 497.80)"  stroke="#111" stroke-width="0.22">Ca+Con</text>
<line x1="68.00" y1="416.40" x2="68.00" y2="436.80" stroke="#c8c21e" stroke-width="1.6" />
<line x1="61.20" y1="416.40" x2="74.80" y2="416.40" stroke="#c8c21e" stroke-width="1.6" />
<line x1="61.20" y1="436.80" x2="74.80" y2="436.80" stroke="#c8c21e" stroke-width="1.6" />
<circle cx="68.00" cy="412.60" r="2.3" fill="#c8c21e"/>
<circle cx="64.40" cy="417.60" r="2.3" fill="#c8c21e"/>
<circle cx="71.80" cy="423.30" r="2.3" fill="#c8c21e"/>
<circle cx="61.10" cy="432.40" r="2.3" fill="#c8c21e"/>
<circle cx="68.00" cy="437.00" r="2.3" fill="#c8c21e"/>
<circle cx="75.00" cy="435.30" r="2.3" fill="#c8c21e"/>
<line x1="111.10" y1="406.10" x2="111.10" y2="418.20" stroke="#0a8c0a" stroke-width="1.6" />
<line x1="104.30" y1="406.10" x2="117.90" y2="406.10" stroke="#0a8c0a" stroke-width="1.6" />
<line x1="104.30" y1="418.20" x2="117.90" y2="418.20" stroke="#0a8c0a" stroke-width="1.6" />
<rect x="102.15" y="404.75" width="4.50" height="4.50" fill="#0a8c0a" stroke="none" stroke-width="0" />
<rect x="115.95" y="402.35" width="4.50" height="4.50" fill="#0a8c0a" stroke="none" stroke-width="0" />
<rect x="108.85" y="407.35" width="4.50" height="4.50" fill="#0a8c0a" stroke="none" stroke-width="0" />
<rect x="102.15" y="412.85" width="4.50" height="4.50" fill="#0a8c0a" stroke="none" stroke-width="0" />
<rect x="115.65" y="415.25" width="4.50" height="4.50" fill="#0a8c0a" stroke="none" stroke-width="0" />
<rect x="108.85" y="417.85" width="4.50" height="4.50" fill="#0a8c0a" stroke="none" stroke-width="0" />
<line x1="154.10" y1="417.20" x2="154.10" y2="425.90" stroke="#1a1aff" stroke-width="1.6" />
<line x1="146.50" y1="417.20" x2="161.70" y2="417.20" stroke="#1a1aff" stroke-width="1.6" />
<line x1="146.50" y1="425.90" x2="161.70" y2="425.90" stroke="#1a1aff" stroke-width="1.6" />
<polygon points="141.00,421.04 146.20,421.04 143.60,416.36" fill="#1a1aff"/>
<polygon points="158.50,418.44 163.70,418.44 161.10,413.76" fill="#1a1aff"/>
<polygon points="144.40,425.24 149.60,425.24 147.00,420.56" fill="#1a1aff"/>
<polygon points="158.30,428.54 163.50,428.54 160.90,423.86" fill="#1a1aff"/>
<polygon points="151.50,430.04 156.70,430.04 154.10,425.36" fill="#1a1aff"/>
<polygon points="157.90,420.54 163.10,420.54 160.50,415.86" fill="#1a1aff"/>
<line x1="197.10" y1="401.90" x2="197.10" y2="417.40" stroke="#ff6a0a" stroke-width="1.6" />
<line x1="190.50" y1="401.90" x2="203.70" y2="401.90" stroke="#ff6a0a" stroke-width="1.6" />
<line x1="190.50" y1="417.40" x2="203.70" y2="417.40" stroke="#ff6a0a" stroke-width="1.6" />
<polygon points="187.60,398.86 192.80,398.86 190.20,403.54" fill="#ff6a0a"/>
<polygon points="198.10,397.96 203.30,397.96 200.70,402.64" fill="#ff6a0a"/>
<polygon points="191.40,404.66 196.60,404.66 194.00,409.34" fill="#ff6a0a"/>
<polygon points="198.10,407.06 203.30,407.06 200.70,411.74" fill="#ff6a0a"/>
<polygon points="191.10,417.06 196.30,417.06 193.70,421.74" fill="#ff6a0a"/>
<polygon points="198.10,416.16 203.30,416.16 200.70,420.84" fill="#ff6a0a"/>
<polyline points="68.00,401.70 68.00,396.90 111.40,396.90 111.40,401.90" fill="none" stroke="#000" stroke-width="1.5" stroke-linejoin="round" stroke-linejoin="miter"/>
<polyline points="68.20,389.40 68.20,384.20 197.50,384.20 197.50,389.80" fill="none" stroke="#000" stroke-width="1.5" stroke-linejoin="round" stroke-linejoin="miter"/>
<polygon points="90.00,390.80 90.65,392.11 92.09,392.32 91.05,393.34 91.29,394.78 90.00,394.10 88.71,394.78 88.95,393.34 87.91,392.32 89.35,392.11" fill="#111"/>
<polygon points="130.35,377.35 131.01,378.69 132.49,378.90 131.42,379.95 131.67,381.42 130.35,380.73 129.03,381.42 129.28,379.95 128.21,378.90 129.69,378.69" fill="#111"/>
<polygon points="135.65,377.35 136.31,378.69 137.79,378.90 136.72,379.95 136.97,381.42 135.65,380.73 134.33,381.42 134.58,379.95 133.51,378.90 134.99,378.69" fill="#111"/>
<text x="234.90" y="371.50" font-size="15" font-weight="bold" text-anchor="start" fill="#111" stroke="#111" stroke-width="0.2">f</text>
<line x1="270.50" y1="370.60" x2="270.50" y2="491.00" stroke="#111" stroke-width="1.3" />
<line x1="270.30" y1="490.30" x2="439.00" y2="490.30" stroke="#111" stroke-width="1.3" />
<line x1="267.40" y1="490.40" x2="270.50" y2="490.40" stroke="#111" stroke-width="1.2" />
<text x="265.90" y="493.30" font-size="8.0" font-weight="bold" text-anchor="end" fill="#111"  stroke="#111" stroke-width="0.22">0</text>
<line x1="267.40" y1="450.55" x2="270.50" y2="450.55" stroke="#111" stroke-width="1.2" />
<text x="265.90" y="453.45" font-size="8.0" font-weight="bold" text-anchor="end" fill="#111"  stroke="#111" stroke-width="0.22">5</text>
<line x1="267.40" y1="410.70" x2="270.50" y2="410.70" stroke="#111" stroke-width="1.2" />
<text x="265.90" y="413.60" font-size="8.0" font-weight="bold" text-anchor="end" fill="#111"  stroke="#111" stroke-width="0.22">10</text>
<line x1="267.40" y1="370.85" x2="270.50" y2="370.85" stroke="#111" stroke-width="1.2" />
<text x="265.90" y="373.75" font-size="8.0" font-weight="bold" text-anchor="end" fill="#111"  stroke="#111" stroke-width="0.22">15</text>
<text x="251.70" y="430.30" font-size="9.0" font-weight="bold" text-anchor="middle" fill="#111" transform="rotate(-90 251.70 430.30)"  textLength="107.8" lengthAdjust="spacingAndGlyphs" stroke="#111" stroke-width="0.22">Lactate (μmol/10<tspan dy="-3.6" font-size="6.5">6</tspan><tspan dy="3.6"> cells)</tspan></text>
<polyline points="282.05,490.30 282.05,468.55 303.95,468.55 303.95,490.30" fill="none" stroke="#000" stroke-width="1.7" stroke-linejoin="round" stroke-linejoin="miter"/>
<polyline points="315.25,490.30 315.25,476.95 337.65,476.95 337.65,490.30" fill="none" stroke="#aaa" stroke-width="1.7" stroke-linejoin="round" stroke-linejoin="miter"/>
<polyline points="371.25,490.30 371.25,441.25 393.35,441.25 393.35,490.30" fill="none" stroke="#000" stroke-width="1.7" stroke-linejoin="round" stroke-linejoin="miter"/>
<polyline points="405.35,490.30 405.35,413.35 426.55,413.35 426.55,490.30" fill="none" stroke="#aaa" stroke-width="1.7" stroke-linejoin="round" stroke-linejoin="miter"/>
<line x1="270.30" y1="490.30" x2="439.00" y2="490.30" stroke="#111" stroke-width="1.3" />
<line x1="309.60" y1="490.30" x2="309.60" y2="493.30" stroke="#111" stroke-width="1.2" />
<line x1="399.00" y1="490.30" x2="399.00" y2="493.30" stroke="#111" stroke-width="1.2" />
<text x="309.45" y="503.00" font-size="8.9" font-weight="bold" text-anchor="middle" fill="#111"  textLength="46.3" lengthAdjust="spacingAndGlyphs" stroke="#111" stroke-width="0.22">Intracellular</text>
<text x="398.60" y="503.10" font-size="8.9" font-weight="bold" text-anchor="middle" fill="#111"  textLength="49.6" lengthAdjust="spacingAndGlyphs" stroke="#111" stroke-width="0.22">Extracellular</text>
<line x1="293.00" y1="466.40" x2="293.00" y2="469.50" stroke="#c8c21e" stroke-width="1.6" />
<line x1="289.00" y1="466.40" x2="297.00" y2="466.40" stroke="#c8c21e" stroke-width="1.6" />
<line x1="289.00" y1="469.50" x2="297.00" y2="469.50" stroke="#c8c21e" stroke-width="1.6" />
<circle cx="289.50" cy="462.40" r="2.3" fill="#c8c21e"/>
<circle cx="296.50" cy="464.20" r="2.3" fill="#c8c21e"/>
<circle cx="284.50" cy="469.50" r="2.3" fill="#c8c21e"/>
<circle cx="301.20" cy="467.70" r="2.3" fill="#c8c21e"/>
<circle cx="289.90" cy="472.50" r="2.3" fill="#c8c21e"/>
<circle cx="295.80" cy="472.20" r="2.3" fill="#c8c21e"/>
<rect x="319.25" y="473.75" width="4.50" height="4.50" fill="#0a8c0a" stroke="none" stroke-width="0" />
<rect x="323.75" y="470.55" width="4.50" height="4.50" fill="#0a8c0a" stroke="none" stroke-width="0" />
<rect x="328.75" y="470.75" width="4.50" height="4.50" fill="#0a8c0a" stroke="none" stroke-width="0" />
<rect x="330.75" y="474.25" width="4.50" height="4.50" fill="#0a8c0a" stroke="none" stroke-width="0" />
<rect x="321.75" y="477.05" width="4.50" height="4.50" fill="#0a8c0a" stroke="none" stroke-width="0" />
<rect x="327.25" y="477.05" width="4.50" height="4.50" fill="#0a8c0a" stroke="none" stroke-width="0" />
<rect x="324.75" y="473.75" width="4.50" height="4.50" fill="#0a8c0a" stroke="none" stroke-width="0" />
<line x1="382.30" y1="433.40" x2="382.30" y2="447.50" stroke="#c8c21e" stroke-width="1.6" />
<line x1="378.30" y1="433.40" x2="386.30" y2="433.40" stroke="#c8c21e" stroke-width="1.6" />
<line x1="378.30" y1="447.50" x2="386.30" y2="447.50" stroke="#c8c21e" stroke-width="1.6" />
<circle cx="382.20" cy="430.60" r="2.3" fill="#c8c21e"/>
<circle cx="375.70" cy="437.80" r="2.3" fill="#c8c21e"/>
<circle cx="388.80" cy="437.80" r="2.3" fill="#c8c21e"/>
<circle cx="382.20" cy="443.70" r="2.3" fill="#c8c21e"/>
<circle cx="385.70" cy="447.00" r="2.3" fill="#c8c21e"/>
<circle cx="379.20" cy="451.80" r="2.3" fill="#c8c21e"/>
<line x1="415.80" y1="407.30" x2="415.80" y2="418.00" stroke="#0a8c0a" stroke-width="1.6" />
<line x1="411.80" y1="407.30" x2="419.80" y2="407.30" stroke="#0a8c0a" stroke-width="1.6" />
<line x1="411.80" y1="418.00" x2="419.80" y2="418.00" stroke="#0a8c0a" stroke-width="1.6" />
<rect x="410.05" y="403.25" width="4.50" height="4.50" fill="#0a8c0a" stroke="none" stroke-width="0" />
<rect x="416.65" y="402.15" width="4.50" height="4.50" fill="#0a8c0a" stroke="none" stroke-width="0" />
<rect x="406.85" y="409.85" width="4.50" height="4.50" fill="#0a8c0a" stroke="none" stroke-width="0" />
<rect x="420.55" y="408.75" width="4.50" height="4.50" fill="#0a8c0a" stroke="none" stroke-width="0" />
<rect x="413.35" y="416.35" width="4.50" height="4.50" fill="#0a8c0a" stroke="none" stroke-width="0" />
<rect x="413.35" y="424.45" width="4.50" height="4.50" fill="#0a8c0a" stroke="none" stroke-width="0" />
<polyline points="293.00,453.70 293.00,446.20 327.00,446.20 327.00,453.70" fill="none" stroke="#000" stroke-width="1.4" stroke-linejoin="round" stroke-linejoin="miter"/>
<polyline points="381.40,395.70 381.40,388.10 415.60,388.10 415.60,395.70" fill="none" stroke="#000" stroke-width="1.4" stroke-linejoin="round" stroke-linejoin="miter"/>
<polygon points="311.30,437.70 312.03,439.19 313.68,439.43 312.49,440.59 312.77,442.22 311.30,441.45 309.83,442.22 310.11,440.59 308.92,439.43 310.57,439.19" fill="#111"/>
<polygon points="396.00,378.70 396.73,380.19 398.38,380.43 397.19,381.59 397.47,383.22 396.00,382.45 394.53,383.22 394.81,381.59 393.62,380.43 395.27,380.19" fill="#111"/>
<polygon points="401.60,378.70 402.33,380.19 403.98,380.43 402.79,381.59 403.07,383.22 401.60,382.45 400.13,383.22 400.41,381.59 399.22,380.43 400.87,380.19" fill="#111"/>
<rect x="312.00" y="362.20" width="11.90" height="5.30" fill="none" stroke="#000" stroke-width="1.8" />
<rect x="365.20" y="361.70" width="11.80" height="5.30" fill="none" stroke="#aaa" stroke-width="1.8" />
<text x="330.80" y="368.40" font-size="9.7" font-weight="normal" text-anchor="start" fill="#111" stroke="#111" stroke-width="0.15" textLength="19.6" lengthAdjust="spacingAndGlyphs">CON</text>
<text x="383.60" y="367.80" font-size="9.9" font-weight="normal" text-anchor="start" fill="#111" stroke="#111" stroke-width="0.15" textLength="11.2" lengthAdjust="spacingAndGlyphs">Ca</text>
</svg></body></html>
